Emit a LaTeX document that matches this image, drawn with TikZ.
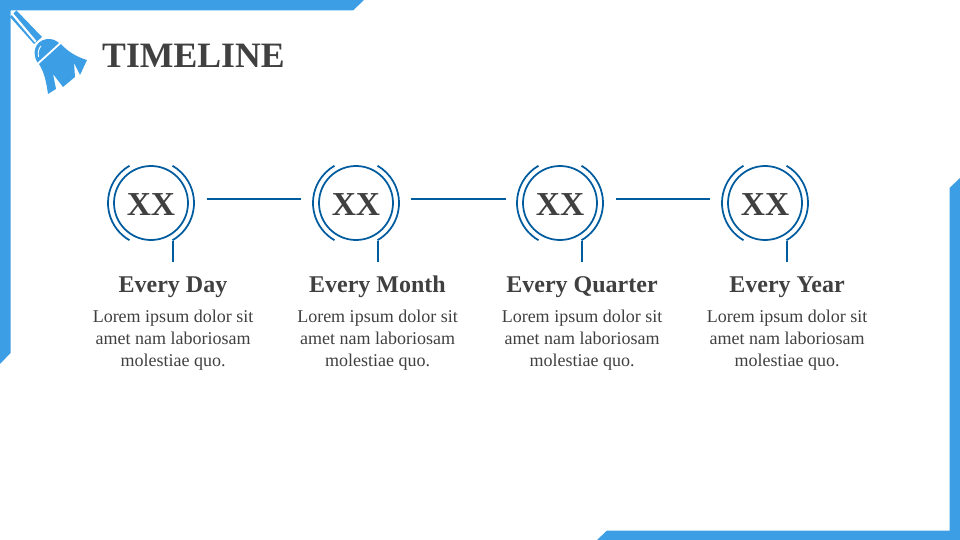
\documentclass[tikz,border=0pt]{standalone}
\usepackage{fontspec}
\setmainfont{Liberation Serif}
\definecolor{framebl}{HTML}{3C9FE6}
\definecolor{linebl}{HTML}{005C9E}
\definecolor{textgr}{HTML}{404040}
\tikzset{
	ring/.style={draw=linebl,circle,line width=1.75pt,minimum size=74pt,inner sep=0pt,text=textgr,text height=24pt,text depth=0pt,font=\bfseries\fontsize{33.5}{33.5}\selectfont},
	arcline/.style={draw=linebl,line width=1.75pt},
	linkline/.style={draw=linebl,line width=2pt},
	headtext/.style={text=textgr,font=\bfseries\fontsize{24}{24}\selectfont,inner sep=0pt},
	bodytext/.style={text=textgr,align=center,font=\fontsize{18}{22.3}\selectfont,inner sep=0pt}
}
\begin{document}
\begin{tikzpicture}[x=1pt,y=-1pt]
	\useasboundingbox (0,0) rectangle (960,540);
	% frame
	\fill[framebl] (0,0) -- (364,0) -- (353,10.5) -- (10.5,10.5) -- (10.5,353) -- (0,364) -- cycle;
	\fill[framebl] (960,178) -- (960,540) -- (597,540) -- (607,530.5) -- (949.5,530.5) -- (949.5,188) -- cycle;
	% broom
	\fill[framebl] (10,17) -- (16.5,10.5) -- (42,37) -- (34,44) -- cycle;
	\fill[white] (11,14) -- (12.5,12.5) -- (36.5,41) -- (35,42.5) -- cycle;
	\fill[framebl] (37.5,62.5) .. controls (32,54) and (34,41) .. (47,39) .. controls (52,38.5) and (56,40.5) .. (59,43) -- cycle;
	\fill[framebl] (61,44) .. controls (68,52) and (77,57) .. (87,60) -- (80,75) -- (74,63) -- (75,77) -- (63,87) -- (53,74) -- (56,89) -- (48,94) .. controls (46,80) and (44,72) .. (39,64) -- cycle;
	\draw[white,line width=0.9pt] (38.5,57) .. controls (37.5,52) and (39,48) .. (41,46);
	\node[ring] (p1) at (151,203){XX};
	\node[ring] (p2) at (356,203){XX};
	\node[ring] (p3) at (560,203){XX};
	\node[ring] (p4) at (765,203){XX};
	% arcs round each ring
	\draw[arcline] ([shift={(120:43)}]p1.center) arc[start angle=120,end angle=240,radius=43];
	\draw[arcline] ([shift={(60:43)}]p1.center) arc[start angle=60,end angle=-60,radius=43];
	\draw[arcline] ([shift={(120:43)}]p2.center) arc[start angle=120,end angle=240,radius=43];
	\draw[arcline] ([shift={(60:43)}]p2.center) arc[start angle=60,end angle=-60,radius=43];
	\draw[arcline] ([shift={(120:43)}]p3.center) arc[start angle=120,end angle=240,radius=43];
	\draw[arcline] ([shift={(60:43)}]p3.center) arc[start angle=60,end angle=-60,radius=43];
	\draw[arcline] ([shift={(120:43)}]p4.center) arc[start angle=120,end angle=240,radius=43];
	\draw[arcline] ([shift={(60:43)}]p4.center) arc[start angle=60,end angle=-60,radius=43];
	% links
	\draw[linkline] ([shift={(18,-4)}]p1.east) -- ([shift={(-17,-4)}]p2.west);
	\draw[linkline] ([shift={(17,-4)}]p2.east) -- ([shift={(-16,-4)}]p3.west);
	\draw[linkline] ([shift={(18,-4)}]p3.east) -- ([shift={(-17,-4)}]p4.west);
	% labels
	\node[headtext] (h1) at (173,287){Every Day};
	\node[headtext] (h2) at (377.5,287){Every Month};
	\node[headtext] (h3) at (582,287){Every Quarter};
	\node[headtext] (h4) at (787,287){Every Year};
	\node[bodytext] (b1) at (173,340){Lorem ipsum dolor sit\\amet nam laboriosam\\molestiae quo.};
	\node[bodytext] (b2) at (377.5,340){Lorem ipsum dolor sit\\amet nam laboriosam\\molestiae quo.};
	\node[bodytext] (b3) at (582,340){Lorem ipsum dolor sit\\amet nam laboriosam\\molestiae quo.};
	\node[bodytext] (b4) at (787,340){Lorem ipsum dolor sit\\amet nam laboriosam\\molestiae quo.};
	% stems
	\draw[linkline] (h1.north |- p1.south) -- ([yshift=14pt]h1.north);
	\draw[linkline] (h2.north |- p2.south) -- ([yshift=14pt]h2.north);
	\draw[linkline] (h3.north |- p3.south) -- ([yshift=14pt]h3.north);
	\draw[linkline] (h4.north |- p4.south) -- ([yshift=14pt]h4.north);
	\node[anchor=west,inner sep=0pt,text=textgr,font=\bfseries\fontsize{35.7}{36}\selectfont] (title) at (102,56){TIMELINE};
\end{tikzpicture}
\end{document}
